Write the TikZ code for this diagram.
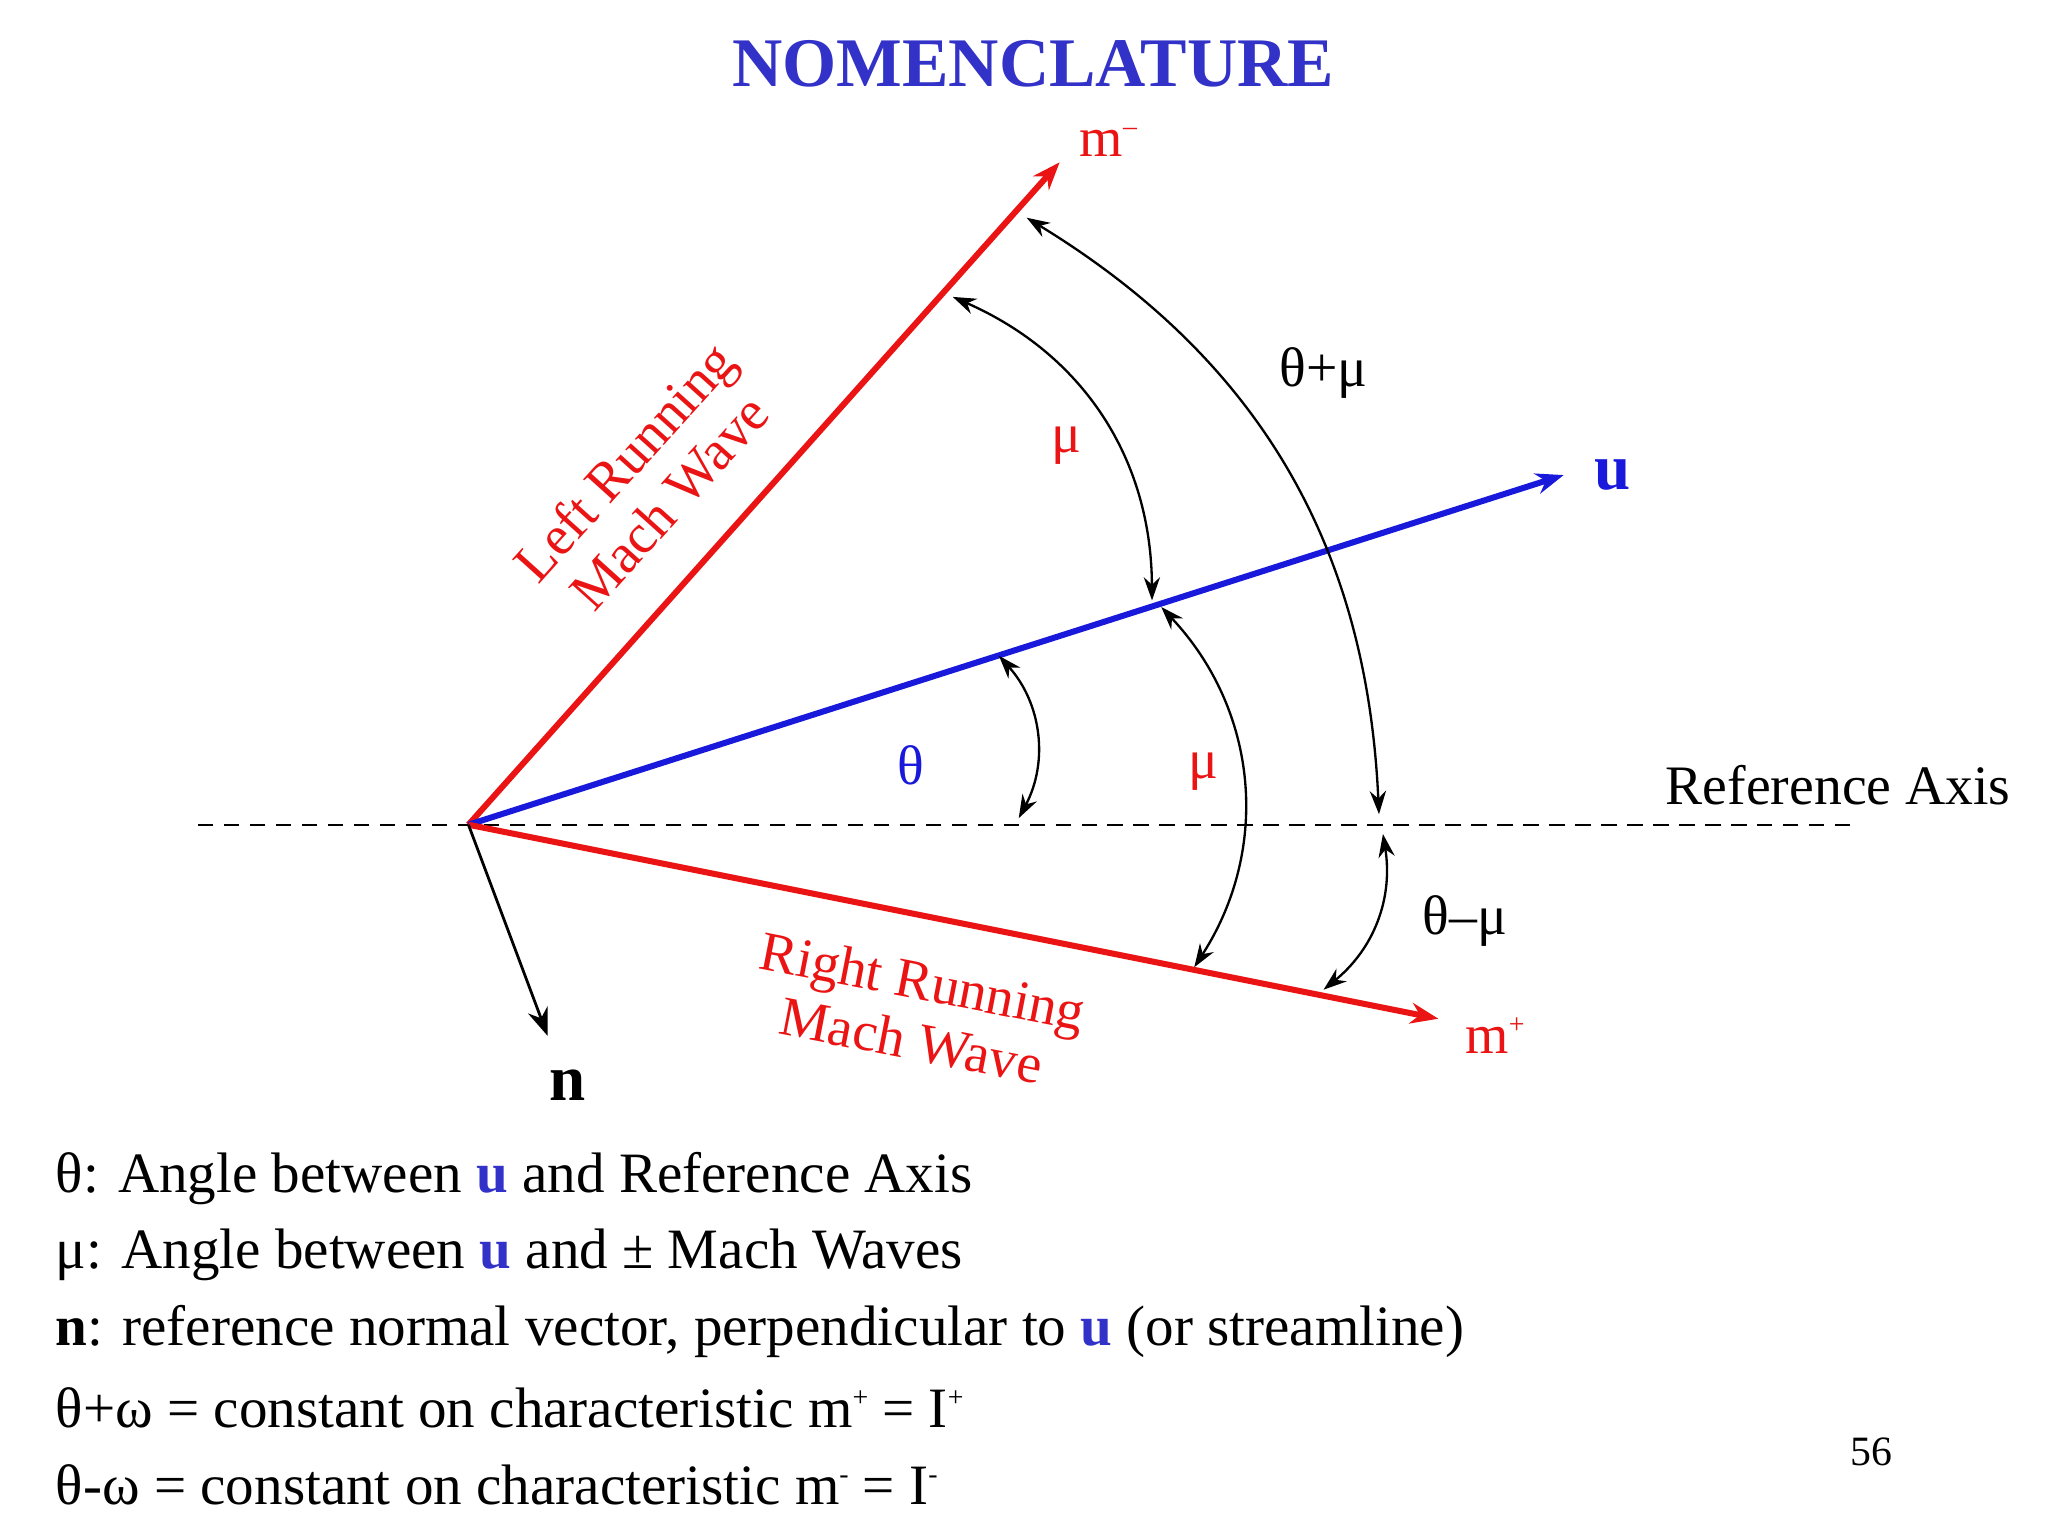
\documentclass[tikz,border=0pt]{standalone}
\usepackage{fontspec}
\setmainfont{Liberation Serif}
\usetikzlibrary{arrows.meta}
\definecolor{rd}{RGB}{235,20,20}
\definecolor{bl}{RGB}{25,25,220}
\definecolor{tb}{RGB}{50,50,200}
\newcommand{\sups}[1]{\raisebox{0.8ex}{\fontsize{6}{7}\selectfont #1}}
\begin{document}
\begin{tikzpicture}[x=0.01cm,y=-0.01cm,
  vec/.style={line width=1.3pt,-{Stealth[length=6pt,width=4.5pt]}},
  ang/.style={line width=0.5pt,{Stealth[length=5pt,width=3.5pt]}-{Stealth[length=5pt,width=3.5pt]}},
  lbl/.style={font=\fontsize{12}{14}\selectfont},
  desc/.style={anchor=west,font=\fontsize{12.3}{14}\selectfont}]
\useasboundingbox (0,0) rectangle (1552,1164);
\node[text=tb,font=\fontsize{15}{18}\selectfont\bfseries] (title) at (783,48) {NOMENCLATURE};
\coordinate (O) at (355,625);
\coordinate (ra) at (150,625);
\coordinate (rb) at (1410,625);
\draw[dash pattern=on 3.3pt off 2.3pt,line width=0.5pt] (ra) -- (rb);
\coordinate (mm) at (803,123);
\coordinate (u) at (1185,360);
\coordinate (mp) at (1090,772);
\coordinate (n) at (415,785);
\draw[vec,rd] (O) -- (mm);
\draw[vec,bl] (O) -- (u);
\draw[vec,rd] (O) -- (mp);
\draw[line width=0.6pt,-{Stealth[length=6pt,width=4.5pt]}] (O) -- (n);
\coordinate (t1) at (772,620); \coordinate (t2) at (757,497);
\draw[ang] (t1) to[bend right=35] (t2);
\coordinate (a1) at (873,455); \coordinate (a2) at (722,225);
\draw[ang] (a1) to[bend right=33] (a2);
\coordinate (b1) at (905,733); \coordinate (b2) at (880,460);
\draw[ang] (b1) to[bend right=38] (b2);
\coordinate (c1) at (1045,617); \coordinate (c2) at (778,165);
\draw[ang] (c1) to[bend right=28] (c2);
\coordinate (d1) at (1003,750); \coordinate (d2) at (1048,632);
\draw[ang] (d1) to[bend right=30] (d2);
\node[lbl] (ltpm) at (1003,283) {θ+μ};
\node[lbl,text=rd] (lmu1) at (808,338) {μ};
\node[lbl,text=bl] (lth) at (690,580) {θ};
\node[lbl,text=rd] (lmu2) at (912,585) {μ};
\node[lbl] (ltmm) at (1110,698) {θ–μ};
\node[text=bl,font=\fontsize{14}{16}\selectfont\bfseries] (lu) at (1222,360) {u};
\node[lbl,text=rd] (lmm) at (840,108) {m\sups{–}};
\node[lbl,text=rd] (lmp) at (1133,785) {m\sups{+}};
\node[font=\fontsize{14}{16}\selectfont\bfseries] (ln) at (430,822) {n};
\node[lbl] (lref) at (1393,595) {Reference Axis};
\node[lbl,text=rd,rotate=48,align=center,font=\fontsize{12}{13}\selectfont] (lleft) at (490,365) {Left Running\\Mach Wave};
\node[lbl,text=rd,rotate=-11,align=center,font=\fontsize{12}{13}\selectfont] (lright) at (695,766) {Right Running\\Mach Wave};
\node[font=\fontsize{9}{11}\selectfont] (pg) at (1418,1100) {56};
\node[desc] (d1t) at (30,893) {θ: Angle between \textcolor{tb}{\textbf{u}} and Reference Axis};
\node[desc] (d2t) at (30,951) {μ: Angle between \textcolor{tb}{\textbf{u}} and ± Mach Waves};
\node[desc] (d3t) at (30,1009) {\textbf{n}: reference normal vector, perpendicular to \textcolor{tb}{\textbf{u}} (or streamline)};
\node[desc] (d4t) at (30,1067) {θ+ω = constant on characteristic m\sups{+} = I\sups{+}};
\node[desc] (d5t) at (30,1125) {θ-ω = constant on characteristic m\sups{-} = I\sups{-}};
\end{tikzpicture}
\end{document}
